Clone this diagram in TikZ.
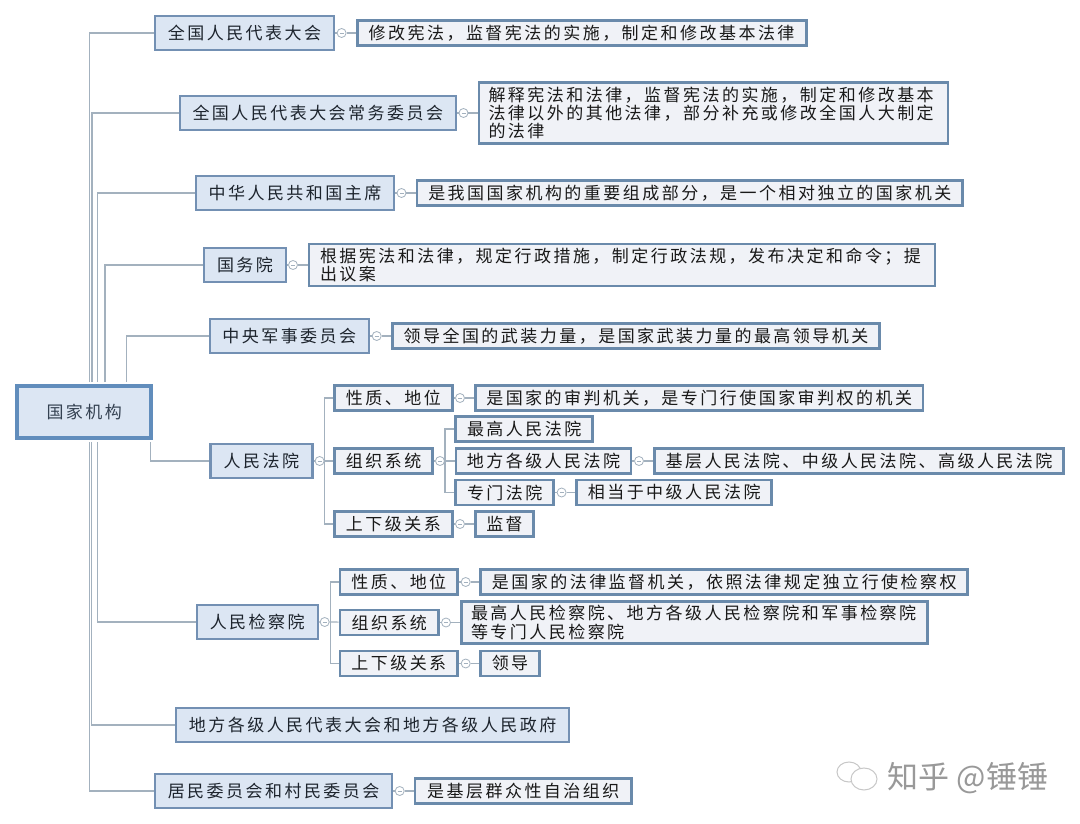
\documentclass[tikz,border=0pt]{standalone}
\usepackage{fontspec}
\setmainfont[LetterSpace=14.5]{Noto Sans CJK SC}
\newfontfamily\markfont{Noto Sans CJK SC}

\definecolor{linkgray}{HTML}{A3B1BE}
\definecolor{mainfill}{HTML}{DCE6F3}
\definecolor{mainedge}{HTML}{7390B3}
\definecolor{leaffill}{HTML}{F0F2F7}
\definecolor{leafedge}{HTML}{6A8AAB}
\definecolor{rootedge}{HTML}{618DBC}

\tikzset{
	link/.style={linkgray, line width=1.2pt},
	rootbox/.style={draw=rootedge, fill=mainfill, line width=4pt, inner sep=0pt, text=black!55!mainedge, font=\fontsize{17}{19}\selectfont},
	mainbox/.style={draw=mainedge, fill=mainfill, line width=2.2pt, inner sep=0pt, text=black!75!mainedge, font=\fontsize{17}{19}\selectfont},
	leafbox/.style={draw=leafedge, fill=leaffill, line width=2.8pt, inner sep=0pt, text=black!90, align=left, font=\fontsize{17}{18.3}\selectfont},
	knob/.style={circle, draw=linkgray, fill=white, line width=0.8pt, minimum size=9pt, inner sep=0pt,
		path picture={\draw[linkgray, line width=0.6pt] (path picture bounding box.center) ++(-2pt,0) -- ++(4pt,0);}}
}

\begin{document}
\begin{tikzpicture}[x=1pt, y=-1pt]
		\useasboundingbox (0, 0) rectangle (1080, 824);
		\fill[white] (0, 0) rectangle (1080, 824);

		\node[rootbox, minimum width=133.5, minimum height=52] (root) at (84.2, 412) {国家机构};

		\node[mainbox, minimum width=179, minimum height=34] (npc) at (244.5, 33) {全国人民代表大会};
		\node[leafbox, minimum width=449, minimum height=24.5] (npcText) at (581.6, 33) {修改宪法，监督宪法的实施，制定和修改基本法律};
		\node[mainbox, minimum width=276, minimum height=33.5] (standing) at (317.8, 113) {全国人民代表大会常务委员会};
		\node[leafbox, minimum width=469, minimum height=61.5, text width=450] (standingText) at (713.5, 113)
			{解释宪法和法律，监督宪法的实施，制定和修改基本\\
			法律以外的其他法律，部分补充或修改全国人大制定\\
			的法律};
		\node[mainbox, minimum width=198.5, minimum height=33.5] (chair) at (295, 193) {中华人民共和国主席};
		\node[leafbox, minimum width=545.5, minimum height=24.5] (chairText) at (689.8, 193) {是我国国家机构的重要组成部分，是一个相对独立的国家机关};
		\node[mainbox, minimum width=82, minimum height=33.5] (council) at (245, 265) {国务院};
		\node[leafbox, minimum width=626, minimum height=42, text width=604] (councilText) at (622, 265)
			{根据宪法和法律，规定行政措施，制定行政法规，发布决定和命令；提\\
			出议案};
		\node[mainbox, minimum width=159, minimum height=33.5] (military) at (289.3, 336) {中央军事委员会};
		\node[leafbox, minimum width=487, minimum height=24.5] (militaryText) at (636, 336) {领导全国的武装力量，是国家武装力量的最高领导机关};

		\node[mainbox, minimum width=102, minimum height=33.5] (court) at (261.4, 461) {人民法院};
		\node[leafbox, minimum width=117.5, minimum height=25] (courtRole) at (393.4, 398) {性质、地位};
		\node[leafbox, minimum width=447.5, minimum height=25] (courtRoleText) at (699.2, 398) {是国家的审判机关，是专门行使国家审判权的机关};
		\node[leafbox, minimum width=98, minimum height=25] (courtOrg) at (383.6, 461) {组织系统};
		\node[leafbox, minimum width=137, minimum height=25] (courtTop) at (524.2, 429) {最高人民法院};
		\node[leafbox, minimum width=175, minimum height=25] (courtLocal) at (543.5, 461) {地方各级人民法院};
		\node[leafbox, minimum width=409, minimum height=25] (courtLocalText) at (859, 461) {基层人民法院、中级人民法院、高级人民法院};
		\node[leafbox, minimum width=98, minimum height=25] (courtSpecial) at (504.7, 492.5) {专门法院};
		\node[leafbox, minimum width=195, minimum height=25] (courtSpecialText) at (674.2, 492.5) {相当于中级人民法院};
		\node[leafbox, minimum width=117.5, minimum height=25] (courtRel) at (393.4, 524) {上下级关系};
		\node[leafbox, minimum width=58, minimum height=25] (courtRelText) at (504.5, 524) {监督};

		\node[mainbox, minimum width=121, minimum height=33.5] (procur) at (257.2, 622) {人民检察院};
		\node[leafbox, minimum width=117.5, minimum height=25] (procRole) at (398.8, 582) {性质、地位};
		\node[leafbox, minimum width=487, minimum height=25] (procRoleText) at (724.3, 582) {是国家的法律监督机关，依照法律规定独立行使检察权};
		\node[leafbox, minimum width=98.5, minimum height=25] (procOrg) at (389.3, 622.5) {组织系统};
		\node[leafbox, minimum width=466, minimum height=42, text width=447] (procOrgText) at (694.5, 622.5)
			{最高人民检察院、地方各级人民检察院和军事检察院\\
			等专门人民检察院};
		\node[leafbox, minimum width=117.5, minimum height=25] (procRel) at (398.8, 663.5) {上下级关系};
		\node[leafbox, minimum width=59, minimum height=25] (procRelText) at (510, 663.5) {领导};

		\node[mainbox, minimum width=393, minimum height=33.5] (local) at (372.6, 725) {地方各级人民代表大会和地方各级人民政府};
		\node[mainbox, minimum width=237, minimum height=33.5] (resident) at (273.6, 791) {居民委员会和村民委员会};
		\node[leafbox, minimum width=216.5, minimum height=25] (residentText) at (523.3, 791) {是基层群众性自治组织};

		\foreach \nm/\x/\y in {kNpc/341.6/33, kStanding/463.5/113, kChair/401.5/193, kCouncil/293/265, kMilitary/376.7/336,
			kCourt/319.6/461, kCourtRole/460/398, kCourtOrg/440/461, kCourtLocal/639/461, kCourtSpecial/561.6/492.5, kCourtRel/460/524,
			kProcur/324.7/622, kProcRole/465.7/582, kProcOrg/446/622.5, kProcRel/465.7/663.5, kResident/399.7/791}
			\node[knob] (\nm) at (\x, \y) {};

		\foreach \a/\k/\b in {npc/kNpc/npcText, standing/kStanding/standingText, chair/kChair/chairText, council/kCouncil/councilText,
			military/kMilitary/militaryText, court/kCourt/courtOrg, courtRole/kCourtRole/courtRoleText, courtOrg/kCourtOrg/courtLocal,
			courtLocal/kCourtLocal/courtLocalText, courtSpecial/kCourtSpecial/courtSpecialText, courtRel/kCourtRel/courtRelText,
			procur/kProcur/procOrg, procRole/kProcRole/procRoleText, procOrg/kProcOrg/procOrgText, procRel/kProcRel/procRelText,
			resident/kResident/residentText}
			\draw[link] (\a) -- (\k) -- (\b);

		\foreach \i/\x/\kid in {1/89.2/npc, 2/92/standing, 3/97.8/chair, 4/105/council, 5/126.7/military}
			{\coordinate (up\i) at (\x, 382); \draw[link] (up\i) |- (\kid);}
		\foreach \i/\x/\kid in {1/89.3/resident, 2/91.7/local, 3/97.7/procur, 4/150.8/court}
			{\coordinate (down\i) at (\x, 442); \draw[link] (down\i) |- (\kid);}

		\coordinate (busCourt) at (324.7, 461);
		\coordinate (busOrg) at (445, 461);
		\coordinate (busProc) at (330.7, 622);
		\draw[link] (courtRole) -| (busCourt);
		\draw[link] (courtRel) -| (busCourt);
		\draw[link] (courtTop) -| (busOrg);
		\draw[link] (courtSpecial) -| (busOrg);
		\draw[link] (procRole) -| (busProc);
		\draw[link] (procRel) -| (busProc);

		\draw[black!22, line width=1pt] (849, 772) ellipse (12 and 10);
		\draw[black!22, line width=1pt, fill=white] (864, 779) ellipse (13 and 11);
		\node[black!40, font=\markfont\fontsize{31}{34}\selectfont] (mark) at (968, 778) {知乎 @锤锤};
\end{tikzpicture}
\end{document}
